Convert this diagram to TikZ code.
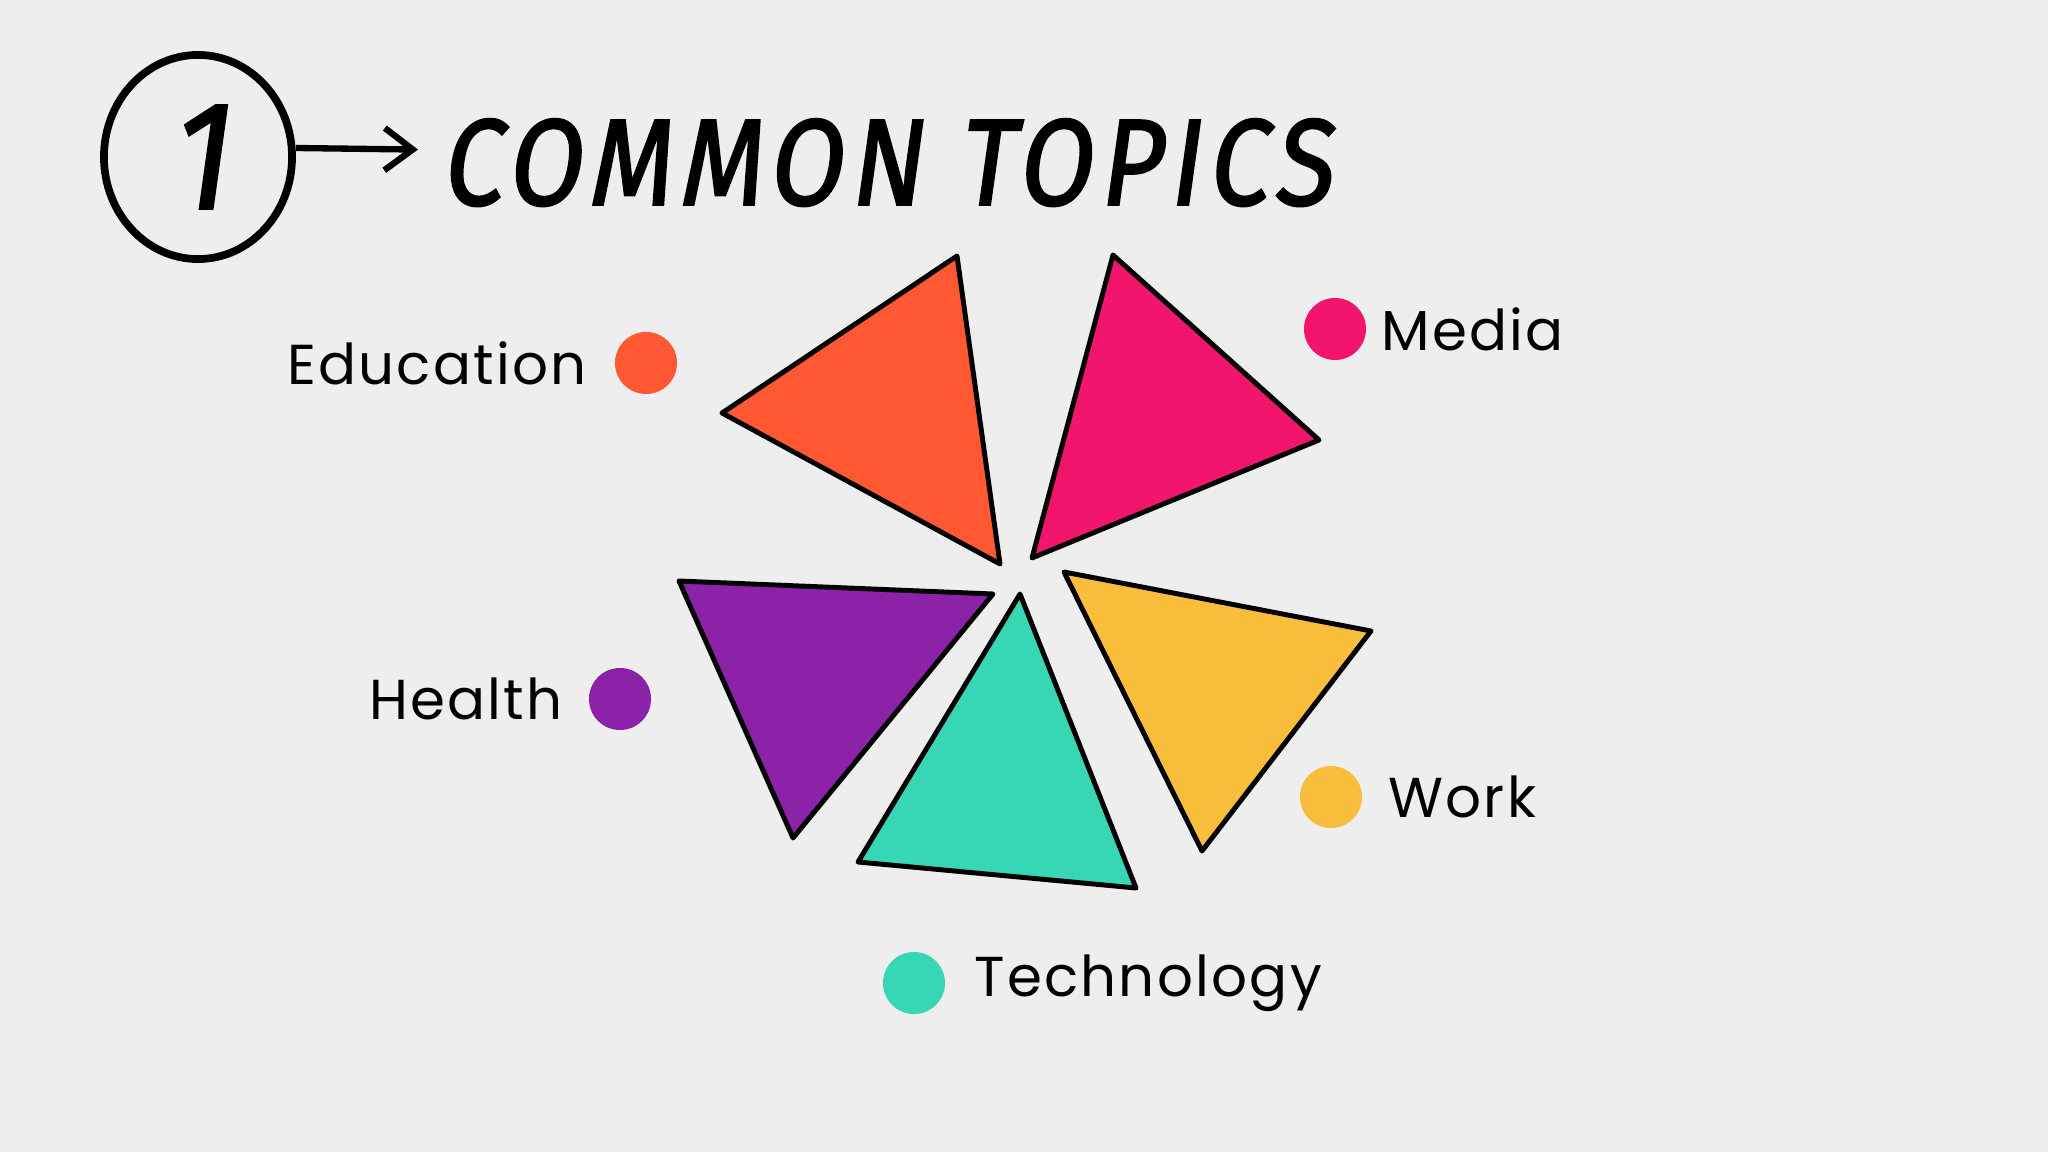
\documentclass[tikz,border=0pt]{standalone}
\usepackage{fontspec}
\usepackage{tikz}
\usetikzlibrary{arrows.meta, shapes.geometric, positioning}
\setmainfont{Poppins}[LetterSpace=4]
\newfontfamily\handfont[FakeSlant=0.14, FakeStretch=0.87, FakeBold=1.6, LetterSpace=6]{Fira Sans}
\definecolor{paper}{HTML}{EEEEEE}
\definecolor{edu}{HTML}{FF5833}
\definecolor{med}{HTML}{F2156E}
\definecolor{hea}{HTML}{8C22A8}
\definecolor{tec}{HTML}{37D6B5}
\definecolor{wor}{HTML}{F9BD3C}
\tikzset{
    dot/.style={circle, fill=#1, minimum size=0.62cm, inner sep=0pt},
    topic/.style={inner sep=0pt, font=\fontsize{16}{18}\selectfont},
    piece/.style={fill=#1, draw=black, line width=1.4pt, line join=round}
}

\begin{document}
\begin{tikzpicture}[x=0.01cm, y=-0.01cm]
                        \fill[paper] (0,0) rectangle (2048,1152);
                        % heading
                        \node[ellipse, draw, line width=2.2pt, minimum width=1.88cm, minimum height=2.04cm, inner sep=0pt,
                            font=\handfont\fontsize{44}{48}\selectfont] (num) at (198,157) {1};
                        \node[anchor=base west, inner sep=0pt, font=\handfont\fontsize{35}{40}\selectfont]
                            (title) at (440,205) {COMMON TOPICS};
                        \draw[line width=1.8pt, -{Straight Barb[length=8pt, width=12pt]}]
                            ([yshift=0.09cm]num.east) -- ([xshift=-0.22cm, yshift=0.13cm]title.west);
                        % triangles
                        \foreach \col/\ax/\ay/\bx/\by/\cx/\cy in {
                            edu/722/413/957/256/1000/564,
                            med/1113/255/1319/440/1032/558,
                            hea/679/581/993/594/793/838,
                            tec/1020/594/858/862/1136/888,
                            wor/1064/572/1371/631/1202/851} {
                            \draw[piece=\col] (\ax,\ay) -- (\bx,\by) -- (\cx,\cy) -- cycle;
                        }
                        % dots and labels
                        \node[dot=edu] (dEdu) at (646,363) {};
                        \node[dot=med] (dMed) at (1335,329) {};
                        \node[dot=hea] (dHea) at (620,699) {};
                        \node[dot=wor] (dWor) at (1331,797) {};
                        \node[dot=tec] (dTec) at (914,983) {};
                        \node[topic, left=0.27cm of dEdu] (lEdu) {Education};
                        \node[topic, right=0.14cm of dMed] (lMed) {Media};
                        \node[topic, left=0.25cm of dHea] (lHea) {Health};
                        \node[topic, right=0.25cm of dWor] (lWor) {Work};
                        \node[topic, right=0.28cm of dTec] (lTec) {Technology};
\end{tikzpicture}
\end{document}
